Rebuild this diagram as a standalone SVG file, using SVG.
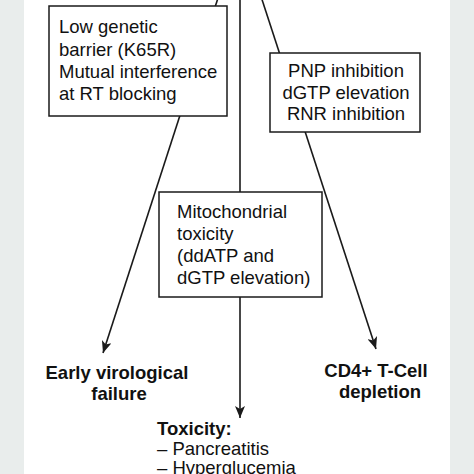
<svg xmlns="http://www.w3.org/2000/svg" width="474" height="474" viewBox="0 0 474 474">
<defs>
<style>
.bg{fill:#e9edec}
.box{fill:#ffffff;stroke:#1a1a1a;stroke-width:1.5}
.edge{fill:none;stroke:#1a1a1a;stroke-width:1.6}
.t{font-family:"Liberation Sans",Arial,Helvetica,sans-serif;font-size:18.5px;fill:#111111}
.b{font-family:"Liberation Sans",Arial,Helvetica,sans-serif;font-size:18.5px;font-weight:bold;fill:#111111}
</style>
<marker id="arr" viewBox="0 0 12 10" refX="12" refY="5" markerWidth="12" markerHeight="10" markerUnits="userSpaceOnUse" orient="auto">
<path d="M0,0 L12,5 L0,10 L3,5 z" fill="#1a1a1a"/>
</marker>
</defs>
<rect x="0" y="0" width="474" height="474" fill="#ffffff"/>
<rect class="bg" x="0" y="0" width="24" height="474"/>
<rect class="bg" x="450" y="0" width="24" height="474"/>
<g id="connectors">
<path class="edge" d="M218,-2 L103,353" marker-end="url(#arr)"/>
<path class="edge" d="M240,-2 L240,418" marker-end="url(#arr)"/>
<path class="edge" d="M261.5,-2 L376,349" marker-end="url(#arr)"/>
</g>
<g id="box-genetic">
<rect class="box" x="49" y="6" width="178" height="110"/>
<text class="t" x="59" y="33">Low genetic</text>
<text class="t" x="59" y="56">barrier (K65R)</text>
<text class="t" x="59" y="78">Mutual interference</text>
<text class="t" x="59" y="100">at RT blocking</text>
</g>
<g id="box-pnp">
<rect class="box" x="270" y="53" width="150" height="79"/>
<text class="t" x="346" y="77" text-anchor="middle">PNP inhibition</text>
<text class="t" x="346" y="99" text-anchor="middle">dGTP elevation</text>
<text class="t" x="346" y="120" text-anchor="middle">RNR inhibition</text>
</g>
<g id="box-mito">
<rect class="box" x="159" y="192" width="163" height="105"/>
<text class="t" x="177" y="218">Mitochondrial</text>
<text class="t" x="177" y="240">toxicity</text>
<text class="t" x="177" y="262">(ddATP and</text>
<text class="t" x="177" y="284">dGTP elevation)</text>
</g>
<g id="label-early">
<text class="b" x="117" y="379" text-anchor="middle">Early virological</text>
<text class="b" x="119" y="400" text-anchor="middle">failure</text>
</g>
<g id="label-cd4">
<text class="b" x="376" y="377" text-anchor="middle">CD4+ T-Cell</text>
<text class="b" x="380" y="398" text-anchor="middle">depletion</text>
</g>
<g id="label-toxicity">
<text class="b" x="157" y="435">Toxicity:</text>
<text class="t" x="157" y="455">– Pancreatitis</text>
<text class="t" x="157" y="474">– Hyperglucemia</text>
</g>
</svg>
